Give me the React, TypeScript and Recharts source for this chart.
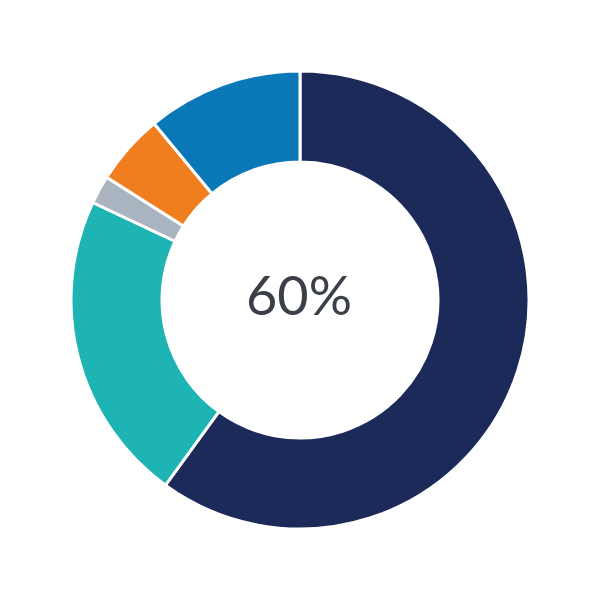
import { Cell, Pie, PieChart } from "recharts";

const names = ["A", "B", "C", "D", "E"];
const values = [60, 22, 2, 5, 11];
const colors = ["#1c2a59", "#1fb4b4", "#aab3c0", "#f07e1e", "#0a77b7"];
const centerLabel = "60%";

const data = names.map((name, i) => ({ name, value: values[i] }));

const App = () => {
  return (
    <div style={{ position: "absolute", left: 0, top: 0, width: 600, height: 600, background: "#fff" }}>
      <PieChart width={600} height={600}>
        <Pie
          data={data}
          dataKey="value"
          cx={295}
          cy={295}
          innerRadius={138}
          outerRadius={229}
          startAngle={90}
          endAngle={-270}
          stroke="#ffffff"
          strokeWidth={3}
          isAnimationActive={false}
        >
          {data.map((d, i) => (
            <Cell key={d.name} fill={colors[i]} />
          ))}
        </Pie>
        <text
          x={299}
          y={294}
          textAnchor="middle"
          dominantBaseline="central"
          fill="#3b4048"
          style={{ fontFamily: "Lato", fontWeight: 400, fontSize: 54 }}
        >
          {centerLabel}
        </text>
      </PieChart>
    </div>
  );
};

export default App;
